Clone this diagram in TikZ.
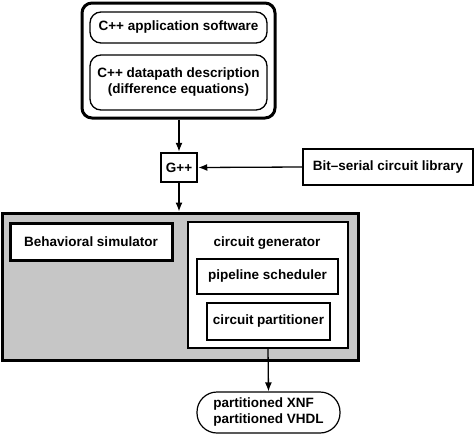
\documentclass[tikz,border=0pt]{standalone}
\usepackage{fontspec}
\setmainfont{Liberation Sans}
\usetikzlibrary{arrows.meta}
\begin{document}
\begin{tikzpicture}[x=1pt,y=-1pt,
  txt/.style={font=\fontsize{13.5}{16}\selectfont\bfseries},
  box/.style={draw=black, inner sep=0pt, txt},
  rbox/.style={box, rounded corners=11pt},
  arr/.style={-{Latex[length=9pt,width=7pt]}, line width=1.3pt},
]
\useasboundingbox (0,0) rectangle (474,437);
% top group
\node[box, draw, line width=3pt, rounded corners=10pt, minimum width=193pt, minimum height=115pt] (sw) at (178.5,60.5) {};
\node[rbox, line width=1.3pt, minimum width=177pt, minimum height=31pt] (app) at (178.5,27.5) {C++ application software};
\node[rbox, line width=1.3pt, minimum width=177pt, minimum height=55pt, align=center] (dp) at (178.5,82.5) {C++ datapath description\\(difference equations)};
% G++
\node[box, line width=2.5pt, minimum width=36pt, minimum height=29pt] (gpp) at (179,167.5) {G++};
\node[box, line width=2pt, minimum width=170pt, minimum height=36pt] (bit) at (388,167) {Bit--serial circuit library};
% big box
\node[box, fill=gray!45, line width=3pt, minimum width=356pt, minimum height=147pt] (big) at (180,286.5) {};
\node[box, fill=white, line width=3pt, minimum width=162pt, minimum height=37pt] (beh) at (91,241.5) {Behavioral simulator};
\node[box, fill=white, line width=2pt, minimum width=160pt, minimum height=126pt] (cg) at (268,285) {};
\node[txt] (cgl) at (267,243) {circuit generator};
\node[box, line width=1.2pt, minimum width=141pt, minimum height=35pt] (pipe) at (267.5,276.5) {pipeline scheduler};
\node[box, line width=1.2pt, minimum width=123pt, minimum height=37pt] (part) at (268.5,321.5) {circuit partitioner};
% output
\node[box, line width=1.2pt, rounded corners=20pt, minimum width=143pt, minimum height=41pt, align=left] (out) at (268.5,412.5) {partitioned XNF\\partitioned VHDL};
% connectors
\draw[arr] (gpp |- sw.south) -- (gpp.north);
\draw[arr] (bit.west) -- (gpp.east);
\draw[arr] (gpp.south) -- (gpp |- big.north);
\draw[arr] (cg.south) -- (out.north);
\end{tikzpicture}
\end{document}
